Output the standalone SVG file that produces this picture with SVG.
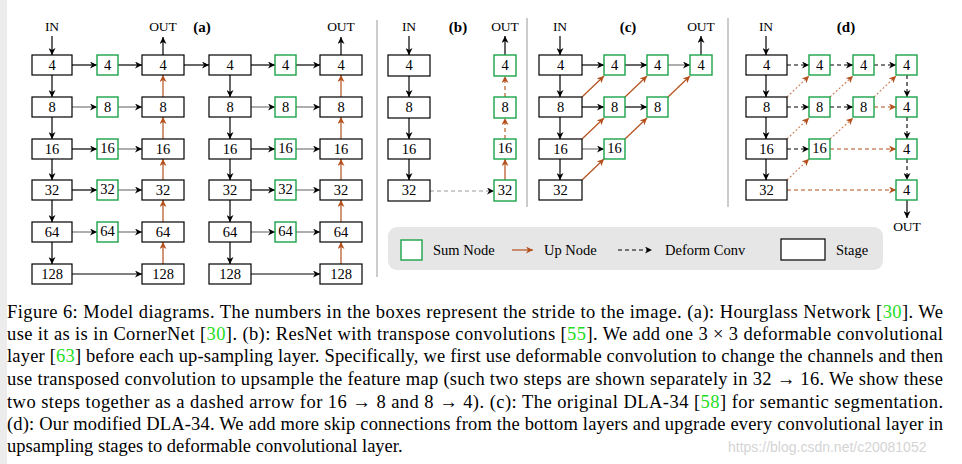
<svg xmlns="http://www.w3.org/2000/svg" width="962" height="464" viewBox="0 0 962 464">
<defs>
<style>
.st{fill:#fff;stroke:#000;stroke-width:1.2}
.sm{fill:#fff;stroke:#1aa34a;stroke-width:1.4}
text{font-family:"Liberation Serif","Times New Roman",serif;fill:#000}
.n{font-size:14.5px;text-anchor:middle}
.h{font-size:13.5px;text-anchor:middle}
.b{font-size:15px;font-weight:bold;text-anchor:middle}
.k{stroke:#000;stroke-width:1.2;fill:none;marker-end:url(#ak)}
.g{stroke:#9a9a9a;stroke-width:1.6;fill:none;marker-end:url(#ak)}
.o{stroke:#b5501c;stroke-width:1.2;fill:none;marker-end:url(#ao)}
.kd{stroke:#000;stroke-width:1.1;fill:none;stroke-dasharray:4 3;marker-end:url(#ak)}
.od{stroke:#b5501c;stroke-width:1.1;fill:none;stroke-dasharray:4 3;marker-end:url(#ao)}
.gd{stroke:#999;stroke-width:1.2;fill:none;stroke-dasharray:4 3;marker-end:url(#ak)}
.ot{stroke:#c87a50;stroke-width:1.1;fill:none;stroke-dasharray:2 2;marker-end:url(#ao)}
.sep{stroke:#999;stroke-width:1}
.cap{font-size:18.5px}
.lg{font-size:14.5px}
</style>
<marker id="ak" viewBox="0 0 10 10" refX="10" refY="5" markerWidth="7" markerHeight="7" markerUnits="userSpaceOnUse" orient="auto"><path d="M0,0 L10,5 L0,10 L3,5 z" fill="#000"/></marker>
<marker id="ao" viewBox="0 0 10 10" refX="10" refY="5" markerWidth="7" markerHeight="7" markerUnits="userSpaceOnUse" orient="auto"><path d="M0,0 L10,5 L0,10 L3,5 z" fill="#b5501c"/></marker>
</defs>
<rect x="0" y="0" width="962" height="464" fill="#fff"/>
<rect x="0" y="0" width="7" height="464" fill="#ececec"/>
<line class="sep" x1="377" y1="20" x2="377" y2="277"/>
<line class="sep" x1="527" y1="18" x2="527" y2="207"/>
<line class="sep" x1="728" y1="18" x2="728" y2="207"/>

<g id="labels">
<text class="h" x="52" y="31">IN</text><text class="h" x="163" y="31">OUT</text><text class="b" x="202" y="32">(a)</text><text class="h" x="341" y="31">OUT</text>
<text class="h" x="409" y="31">IN</text><text class="b" x="458" y="32">(b)</text><text class="h" x="505" y="31">OUT</text>
<text class="h" x="560" y="31">IN</text><text class="b" x="628" y="32">(c)</text><text class="h" x="701" y="31">OUT</text>
<text class="h" x="766" y="31">IN</text><text class="b" x="846" y="32">(d)</text><text class="h" x="907" y="231">OUT</text>
</g>

<g id="connectors">
<path class="k" d="M52,36V55"/><path class="k" d="M163,55V37"/><path class="k" d="M341,55V37"/>
<path class="k" d="M52,75V97"/><path class="k" d="M52,117V139"/><path class="k" d="M52,159V180"/><path class="k" d="M52,200V222"/><path class="k" d="M52,242V264"/>
<path class="k" d="M230,75V97"/><path class="k" d="M230,117V139"/><path class="k" d="M230,159V180"/><path class="k" d="M230,200V222"/><path class="k" d="M230,242V264"/>
<path class="o" d="M163,264V242"/><path class="o" d="M163,222V200"/><path class="o" d="M163,180V159"/><path class="o" d="M163,139V117"/><path class="o" d="M163,97V75"/>
<path class="o" d="M341,264V242"/><path class="o" d="M341,222V200"/><path class="o" d="M341,180V159"/><path class="o" d="M341,139V117"/><path class="o" d="M341,97V75"/>
<path class="k" d="M72,65H97"/><path class="k" d="M118,65H142"/><path class="k" d="M184,65H209"/><path class="k" d="M251,65H275"/><path class="k" d="M296,65H320"/>
<path class="g" d="M72,107H97"/><path class="g" d="M118,107H142"/><path class="g" d="M251,107H275"/><path class="g" d="M296,107H320"/>
<path class="k" d="M72,149H97"/><path class="g" d="M118,149H142"/><path class="k" d="M251,149H275"/><path class="g" d="M296,149H320"/>
<path class="k" d="M72,190H97"/><path class="g" d="M118,190H142"/><path class="k" d="M251,190H275"/><path class="g" d="M296,190H320"/>
<path class="g" d="M72,232H97"/><path class="g" d="M118,232H142"/><path class="g" d="M251,232H275"/><path class="g" d="M296,232H320"/>
<path class="k" d="M72,274H142"/><path class="k" d="M251,274H320"/>
<path class="k" d="M409,36V55"/><path class="k" d="M409,76V97"/><path class="k" d="M409,118V139"/><path class="k" d="M409,159V180"/>
<path class="gd" d="M430,191H494"/>
<path class="o" d="M505,180V159"/><path class="od" d="M505,139V118"/><path class="od" d="M505,97V76"/><path class="k" d="M505,55V36"/>
<path class="k" d="M560,36V55"/><path class="k" d="M560,75V97"/><path class="k" d="M560,117V139"/><path class="k" d="M560,159V180"/>
<path class="k" d="M582,65H604"/><path class="k" d="M625,65H647"/><path class="g" d="M668,65H690"/>
<path class="k" d="M582,107H604"/><path class="k" d="M625,107H647"/><path class="g" d="M582,149H604"/>
<path class="o" d="M582,97L604,76"/><path class="o" d="M625,97L647,76"/><path class="o" d="M668,97L690,76"/>
<path class="o" d="M582,139L604,118"/><path class="o" d="M625,139L647,118"/><path class="o" d="M582,180L604,159"/>
<path class="k" d="M701,55V36"/>
<path class="k" d="M766,36V55"/><path class="k" d="M766,75V97"/><path class="k" d="M766,117V139"/><path class="k" d="M766,159V180"/>
<path class="kd" d="M787,65H809"/><path class="kd" d="M830,65H853"/><path class="kd" d="M874,65H896"/>
<path class="kd" d="M787,107H809"/><path class="kd" d="M830,107H853"/><path class="od" d="M874,107H896"/>
<path class="kd" d="M787,149H809"/><path class="od" d="M830,149H896"/><path class="od" d="M787,190H896"/>
<path class="kd" d="M907,75V97"/><path class="kd" d="M907,117V139"/><path class="kd" d="M907,159V180"/><path class="k" d="M907,200V218"/>
<path class="ot" d="M787,97L809,76"/><path class="ot" d="M830,97L853,76"/><path class="ot" d="M874,97L896,76"/>
<path class="ot" d="M787,139L809,118"/><path class="ot" d="M830,139L853,118"/><path class="ot" d="M787,180L809,159"/>
</g>

<g id="a-nodes">
<g id="a1-4"><rect class="st" x="32" y="55" width="40" height="20"/><text class="n" x="52" y="70">4</text></g>
<g id="a1-8"><rect class="st" x="32" y="97" width="40" height="20"/><text class="n" x="52" y="112">8</text></g>
<g id="a1-16"><rect class="st" x="32" y="139" width="40" height="20"/><text class="n" x="52" y="154">16</text></g>
<g id="a1-32"><rect class="st" x="32" y="180" width="40" height="20"/><text class="n" x="52" y="195">32</text></g>
<g id="a1-64"><rect class="st" x="32" y="222" width="40" height="20"/><text class="n" x="52" y="237">64</text></g>
<g id="a1-128"><rect class="st" x="32" y="264" width="40" height="20"/><text class="n" x="52" y="279">128</text></g>
<g id="a2-4"><rect class="sm" x="97" y="55" width="21" height="20"/><text class="n" x="107.5" y="70">4</text></g>
<g id="a2-8"><rect class="sm" x="97" y="97" width="21" height="20"/><text class="n" x="107.5" y="112">8</text></g>
<g id="a2-16"><rect class="sm" x="97" y="139" width="21" height="20"/><text class="n" x="107.5" y="153">16</text></g>
<g id="a2-32"><rect class="sm" x="97" y="180" width="21" height="20"/><text class="n" x="107.5" y="194">32</text></g>
<g id="a2-64"><rect class="sm" x="97" y="222" width="21" height="20"/><text class="n" x="107.5" y="236">64</text></g>
<g id="a3-4"><rect class="st" x="142" y="55" width="42" height="20"/><text class="n" x="163" y="70">4</text></g>
<g id="a3-8"><rect class="st" x="142" y="97" width="42" height="20"/><text class="n" x="163" y="112">8</text></g>
<g id="a3-16"><rect class="st" x="142" y="139" width="42" height="20"/><text class="n" x="163" y="154">16</text></g>
<g id="a3-32"><rect class="st" x="142" y="180" width="42" height="20"/><text class="n" x="163" y="195">32</text></g>
<g id="a3-64"><rect class="st" x="142" y="222" width="42" height="20"/><text class="n" x="163" y="237">64</text></g>
<g id="a3-128"><rect class="st" x="142" y="264" width="42" height="20"/><text class="n" x="163" y="279">128</text></g>
<g id="a4-4"><rect class="st" x="209" y="55" width="42" height="20"/><text class="n" x="230" y="70">4</text></g>
<g id="a4-8"><rect class="st" x="209" y="97" width="42" height="20"/><text class="n" x="230" y="112">8</text></g>
<g id="a4-16"><rect class="st" x="209" y="139" width="42" height="20"/><text class="n" x="230" y="154">16</text></g>
<g id="a4-32"><rect class="st" x="209" y="180" width="42" height="20"/><text class="n" x="230" y="195">32</text></g>
<g id="a4-64"><rect class="st" x="209" y="222" width="42" height="20"/><text class="n" x="230" y="237">64</text></g>
<g id="a4-128"><rect class="st" x="209" y="264" width="42" height="20"/><text class="n" x="230" y="279">128</text></g>
<g id="a5-4"><rect class="sm" x="275" y="55" width="21" height="20"/><text class="n" x="285.5" y="70">4</text></g>
<g id="a5-8"><rect class="sm" x="275" y="97" width="21" height="20"/><text class="n" x="285.5" y="112">8</text></g>
<g id="a5-16"><rect class="sm" x="275" y="139" width="21" height="20"/><text class="n" x="285.5" y="153">16</text></g>
<g id="a5-32"><rect class="sm" x="275" y="180" width="21" height="20"/><text class="n" x="285.5" y="194">32</text></g>
<g id="a5-64"><rect class="sm" x="275" y="222" width="21" height="20"/><text class="n" x="285.5" y="236">64</text></g>
<g id="a6-4"><rect class="st" x="320" y="55" width="42" height="20"/><text class="n" x="341" y="70">4</text></g>
<g id="a6-8"><rect class="st" x="320" y="97" width="42" height="20"/><text class="n" x="341" y="112">8</text></g>
<g id="a6-16"><rect class="st" x="320" y="139" width="42" height="20"/><text class="n" x="341" y="154">16</text></g>
<g id="a6-32"><rect class="st" x="320" y="180" width="42" height="20"/><text class="n" x="341" y="195">32</text></g>
<g id="a6-64"><rect class="st" x="320" y="222" width="42" height="20"/><text class="n" x="341" y="237">64</text></g>
<g id="a6-128"><rect class="st" x="320" y="264" width="42" height="20"/><text class="n" x="341" y="279">128</text></g>
</g>

<g id="b-nodes">
<g id="b1-4"><rect class="st" x="388" y="55" width="42" height="21"/><text class="n" x="409" y="70">4</text></g>
<g id="b1-8"><rect class="st" x="388" y="97" width="42" height="21"/><text class="n" x="409" y="112">8</text></g>
<g id="b1-16"><rect class="st" x="388" y="139" width="42" height="20"/><text class="n" x="409" y="154">16</text></g>
<g id="b1-32"><rect class="st" x="388" y="180" width="42" height="21"/><text class="n" x="409" y="195">32</text></g>
<g id="b2-4"><rect class="sm" x="494" y="55" width="22" height="21"/><text class="n" x="505" y="70">4</text></g>
<g id="b2-8"><rect class="sm" x="494" y="97" width="22" height="21"/><text class="n" x="505" y="112">8</text></g>
<g id="b2-16"><rect class="sm" x="494" y="139" width="22" height="20"/><text class="n" x="505" y="153">16</text></g>
<g id="b2-32"><rect class="sm" x="494" y="180" width="22" height="21"/><text class="n" x="505" y="195">32</text></g>
</g>

<g id="c-nodes">
<g id="c1-4"><rect class="st" x="539" y="55" width="43" height="20"/><text class="n" x="560.5" y="70">4</text></g>
<g id="c1-8"><rect class="st" x="539" y="97" width="43" height="20"/><text class="n" x="560.5" y="112">8</text></g>
<g id="c1-16"><rect class="st" x="539" y="139" width="43" height="20"/><text class="n" x="560.5" y="154">16</text></g>
<g id="c1-32"><rect class="st" x="539" y="180" width="43" height="20"/><text class="n" x="560.5" y="195">32</text></g>
<g id="c2-4"><rect class="sm" x="604" y="55" width="21" height="20"/><text class="n" x="614.5" y="70">4</text></g>
<g id="c2-8"><rect class="sm" x="604" y="97" width="21" height="20"/><text class="n" x="614.5" y="112">8</text></g>
<g id="c2-16"><rect class="sm" x="604" y="139" width="21" height="20"/><text class="n" x="614.5" y="153">16</text></g>
<g id="c3-4"><rect class="sm" x="647" y="55" width="21" height="20"/><text class="n" x="657.5" y="70">4</text></g>
<g id="c3-8"><rect class="sm" x="647" y="97" width="21" height="20"/><text class="n" x="657.5" y="112">8</text></g>
<g id="c4-4"><rect class="sm" x="690" y="55" width="22" height="20"/><text class="n" x="701" y="70">4</text></g>
</g>

<g id="d-nodes">
<g id="d1-4"><rect class="st" x="746" y="55" width="41" height="20"/><text class="n" x="766.5" y="70">4</text></g>
<g id="d1-8"><rect class="st" x="746" y="97" width="41" height="20"/><text class="n" x="766.5" y="112">8</text></g>
<g id="d1-16"><rect class="st" x="746" y="139" width="41" height="20"/><text class="n" x="766.5" y="154">16</text></g>
<g id="d1-32"><rect class="st" x="746" y="180" width="41" height="20"/><text class="n" x="766.5" y="195">32</text></g>
<g id="d2-4"><rect class="sm" x="809" y="55" width="21" height="20"/><text class="n" x="819.5" y="70">4</text></g>
<g id="d2-8"><rect class="sm" x="809" y="97" width="21" height="20"/><text class="n" x="819.5" y="112">8</text></g>
<g id="d2-16"><rect class="sm" x="809" y="139" width="21" height="20"/><text class="n" x="819.5" y="153">16</text></g>
<g id="d3-4"><rect class="sm" x="853" y="55" width="21" height="20"/><text class="n" x="863.5" y="70">4</text></g>
<g id="d3-8"><rect class="sm" x="853" y="97" width="21" height="20"/><text class="n" x="863.5" y="112">8</text></g>
<g id="d4-4"><rect class="sm" x="896" y="55" width="21" height="20"/><text class="n" x="906.5" y="70">4</text></g>
<g id="d4-8"><rect class="sm" x="896" y="97" width="21" height="20"/><text class="n" x="906.5" y="112">4</text></g>
<g id="d4-16"><rect class="sm" x="896" y="139" width="21" height="20"/><text class="n" x="906.5" y="154">4</text></g>
<g id="d4-32"><rect class="sm" x="896" y="180" width="21" height="20"/><text class="n" x="906.5" y="195">4</text></g>
</g>

<g id="legend">
<rect x="388" y="227" width="495" height="43" rx="9" fill="#e6e6e6"/>
<rect class="sm" x="401" y="240" width="21" height="20"/>
<text class="lg" x="433" y="255">Sum Node</text>
<path class="o" d="M512,250H533"/>
<text class="lg" x="544" y="255">Up Node</text>
<path class="kd" d="M618,250H652"/>
<text class="lg" x="665" y="255">Deform Conv</text>
<rect class="st" x="781" y="239" width="44" height="21"/>
<text class="lg" x="836" y="255">Stage</text>
</g>

<g id="caption">
<text class="cap" x="7" y="318" textLength="936" lengthAdjust="spacing">Figure 6: Model diagrams. The numbers in the boxes represent the stride to the image. (a): Hourglass Network [<tspan fill="#22dd22">30</tspan>]. We</text>
<text class="cap" x="7" y="340" textLength="936" lengthAdjust="spacing">use it as is in CornerNet [<tspan fill="#22dd22">30</tspan>]. (b): ResNet with transpose convolutions [<tspan fill="#22dd22">55</tspan>]. We add one 3 × 3 deformable convolutional</text>
<text class="cap" x="7" y="362" textLength="936" lengthAdjust="spacing">layer [<tspan fill="#22dd22">63</tspan>] before each up-sampling layer. Specifically, we first use deformable convolution to change the channels and then</text>
<text class="cap" x="7" y="385" textLength="936" lengthAdjust="spacing">use transposed convolution to upsample the feature map (such two steps are shown separately in 32 → 16. We show these</text>
<text class="cap" x="7" y="408" textLength="936" lengthAdjust="spacing">two steps together as a dashed arrow for 16 → 8 and 8 → 4). (c): The original DLA-34 [<tspan fill="#22dd22">58</tspan>] for semantic segmentation.</text>
<text class="cap" x="7" y="430" textLength="936" lengthAdjust="spacing">(d): Our modified DLA-34. We add more skip connections from the bottom layers and upgrade every convolutional layer in</text>
<text class="cap" x="7" y="452">upsampling stages to deformable convolutional layer.</text>
<text x="728" y="452" font-size="14" style="font-family:'Liberation Sans',Arial,sans-serif;fill:#d4d4d4">https://blog.csdn.net/c20081052</text>
</g>
</svg>
